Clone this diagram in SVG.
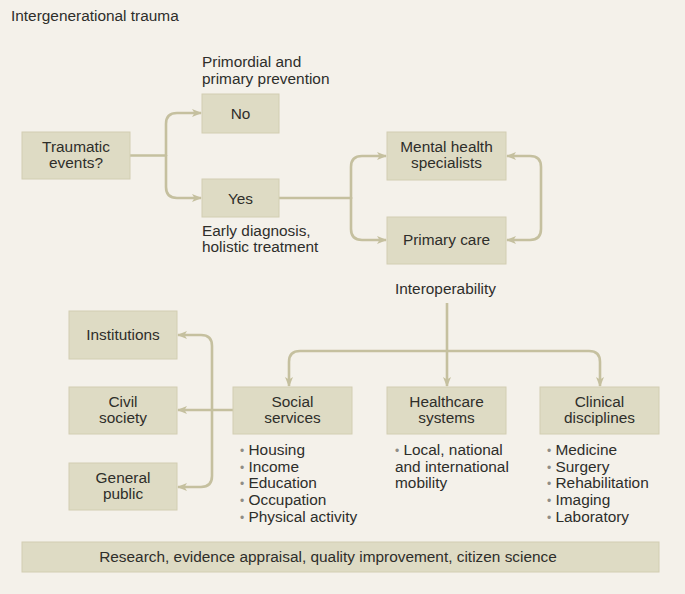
<svg xmlns="http://www.w3.org/2000/svg" width="685" height="594" viewBox="0 0 685 594">
<defs>
<style>
text{font-family:"Liberation Sans",Arial,sans-serif;font-size:15.4px;fill:#2e2e2a;}
.c{text-anchor:middle;}
.box{fill:#dedbc4;stroke:#d2ceb2;stroke-width:1;}
.ln{fill:none;stroke:#c5c09f;stroke-width:2.6;}
.b{fill:#8f8d85;font-size:12px;}
</style>
<marker id="ah" viewBox="0 0 10 8" refX="9" refY="4" markerWidth="10" markerHeight="8" markerUnits="userSpaceOnUse" orient="auto-start-reverse">
<path d="M0,0 L10,4 L0,8 L2.5,4 z" fill="#c5c09f"/>
</marker>
</defs>
<rect x="0" y="0" width="685" height="594" fill="#f4f1ea"/>
<text x="11" y="21">Intergenerational trauma</text>

<g id="connectors">
<path class="ln" d="M130,155.5 H166"/>
<path class="ln" d="M166,156 V124 Q166,113 177,113 H201" marker-end="url(#ah)"/>
<path class="ln" d="M166,155 V187 Q166,198 177,198 H201" marker-end="url(#ah)"/>
<path class="ln" d="M279,198 H351"/>
<path class="ln" d="M351,199 V167 Q351,156 362,156 H386" marker-end="url(#ah)"/>
<path class="ln" d="M351,197 V229 Q351,240 362,240 H386" marker-end="url(#ah)"/>
<path class="ln" d="M507,156 H530 Q541,156 541,167 V229 Q541,240 530,240 H507" marker-start="url(#ah)" marker-end="url(#ah)"/>
<path class="ln" d="M447,303 V386" marker-end="url(#ah)"/>
<path class="ln" d="M289,386 V362 Q289,351 300,351 H589 Q600,351 600,362 V386" marker-start="url(#ah)" marker-end="url(#ah)"/>
<path class="ln" d="M233,410 H178" marker-end="url(#ah)"/>
<path class="ln" d="M178,335 H201 Q212,335 212,346 V476 Q212,487 201,487 H178" marker-start="url(#ah)" marker-end="url(#ah)"/>
</g>

<g id="traumatic">
<rect class="box" x="22" y="132" width="108" height="47"/>
<text class="c" x="76" y="152">Traumatic</text>
<text class="c" x="76" y="168">events?</text>
</g>
<g id="no">
<text x="202" y="67">Primordial and</text>
<text x="202" y="83.5">primary prevention</text>
<rect class="box" x="202" y="94" width="77" height="39"/>
<text class="c" x="240.5" y="118.5">No</text>
</g>
<g id="yes">
<rect class="box" x="202" y="179" width="77" height="38"/>
<text class="c" x="240.5" y="203.5">Yes</text>
<text x="202" y="236">Early diagnosis,</text>
<text x="202" y="252">holistic treatment</text>
</g>
<g id="mental">
<rect class="box" x="387" y="132" width="119" height="48"/>
<text class="c" x="446.5" y="152">Mental health</text>
<text class="c" x="446.5" y="168">specialists</text>
</g>
<g id="primary">
<rect class="box" x="387" y="217" width="119" height="47"/>
<text class="c" x="446.5" y="244.5">Primary care</text>
</g>
<g id="interop">
<text x="395" y="294">Interoperability</text>
</g>
<g id="social">
<rect class="box" x="233" y="387" width="119" height="47"/>
<text class="c" x="292.5" y="406.5">Social</text>
<text class="c" x="292.5" y="422.5">services</text>
<text x="240" y="455"><tspan class="b">•</tspan> Housing</text>
<text x="240" y="471.7"><tspan class="b">•</tspan> Income</text>
<text x="240" y="488.3"><tspan class="b">•</tspan> Education</text>
<text x="240" y="505"><tspan class="b">•</tspan> Occupation</text>
<text x="240" y="521.7"><tspan class="b">•</tspan> Physical activity</text>
</g>
<g id="healthcare">
<rect class="box" x="387" y="387" width="119" height="47"/>
<text class="c" x="446.5" y="406.5">Healthcare</text>
<text class="c" x="446.5" y="422.5">systems</text>
<text x="395" y="455"><tspan class="b">•</tspan> Local, national</text>
<text x="395" y="471.7">and international</text>
<text x="395" y="488.3">mobility</text>
</g>
<g id="clinical">
<rect class="box" x="540" y="387" width="119" height="47"/>
<text class="c" x="599.5" y="406.5">Clinical</text>
<text class="c" x="599.5" y="422.5">disciplines</text>
<text x="547" y="455"><tspan class="b">•</tspan> Medicine</text>
<text x="547" y="471.7"><tspan class="b">•</tspan> Surgery</text>
<text x="547" y="488.3"><tspan class="b">•</tspan> Rehabilitation</text>
<text x="547" y="505"><tspan class="b">•</tspan> Imaging</text>
<text x="547" y="521.7"><tspan class="b">•</tspan> Laboratory</text>
</g>
<g id="institutions">
<rect class="box" x="69" y="311" width="108" height="48"/>
<text class="c" x="123" y="340">Institutions</text>
</g>
<g id="civil">
<rect class="box" x="69" y="387" width="108" height="47"/>
<text class="c" x="123" y="406.5">Civil</text>
<text class="c" x="123" y="422.5">society</text>
</g>
<g id="public">
<rect class="box" x="69" y="463" width="108" height="47"/>
<text class="c" x="123" y="482.5">General</text>
<text class="c" x="123" y="498.5">public</text>
</g>
<g id="research">
<rect class="box" x="22" y="542" width="637" height="30"/>
<text class="c" x="328" y="561.5">Research, evidence appraisal, quality improvement, citizen science</text>
</g>
</svg>
